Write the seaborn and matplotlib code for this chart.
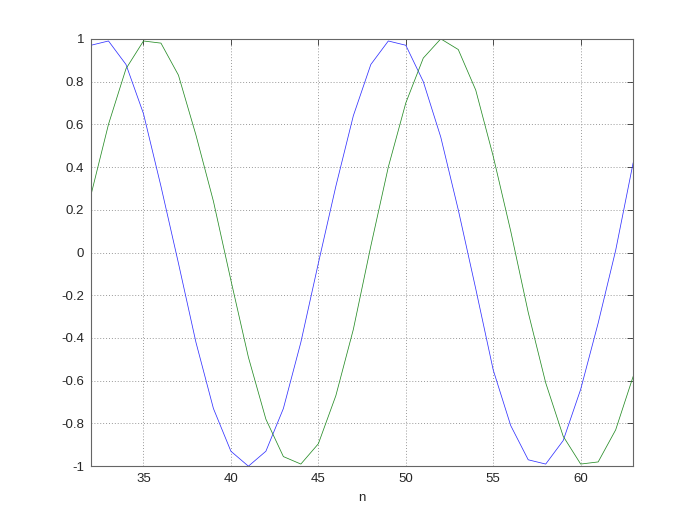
import numpy as np
import pandas as pd
import seaborn as sns
import matplotlib.pyplot as plt

# values, one per integer n
n = list(range(32, 64))
blue_vals = [0.97, 0.99, 0.88, 0.65, 0.31, -0.05, -0.42, -0.73, -0.93, -1.0,
             -0.93, -0.73, -0.42, -0.05, 0.31, 0.64, 0.88, 0.99, 0.97, 0.80,
             0.54, 0.20, -0.17, -0.55, -0.81, -0.97, -0.99, -0.88, -0.64, -0.33,
             0.01, 0.42]
green_vals = [0.27, 0.60, 0.86, 0.99, 0.98, 0.83, 0.55, 0.24, -0.13, -0.49,
              -0.78, -0.955, -0.99, -0.895, -0.67, -0.36, 0.03, 0.40, 0.70, 0.91,
              1.0, 0.95, 0.76, 0.45, 0.10, -0.28, -0.61, -0.86, -0.99, -0.98,
              -0.83, -0.58]
xticks = [35, 40, 45, 50, 55, 60]
yticks = [-1, -0.8, -0.6, -0.4, -0.2, 0, 0.2, 0.4, 0.6, 0.8, 1]
ytick_labels = ['-1', '-0.8', '-0.6', '-0.4', '-0.2', '0', '0.2', '0.4', '0.6', '0.8', '1']

df = pd.DataFrame({'n': n, 'blue': blue_vals, 'green': green_vals})

sns.set_style('white')
plt.rcParams['font.family'] = ['Liberation Sans', 'DejaVu Sans']

fig = plt.figure(figsize=(7, 5.25), dpi=100)
ax = fig.add_axes([0.13, 0.112, 0.7745, 0.814])

sns.lineplot(data=df, x='n', y='blue', color=(0.2, 0.2, 1), linewidth=0.55, ax=ax)
sns.lineplot(data=df, x='n', y='green', color=(0.15, 0.55, 0.15), linewidth=0.55, ax=ax)

ax.set_xlim(32, 63)
ax.set_ylim(-1, 1)
ax.set_xticks(xticks)
ax.set_xticklabels([str(t) for t in xticks])
ax.set_yticks(yticks)
ax.set_yticklabels(ytick_labels)
ax.grid(True, linestyle=(0, (1, 2)), color='#999999', linewidth=0.7)
ax.tick_params(direction='in', length=4, width=0.6, color='#333333',
               labelsize=9.5, top=True, right=True, pad=5)
for s in ax.spines.values():
    s.set_color('#666666')
    s.set_linewidth(0.8)
ax.set_xlabel('n', fontsize=9.5, labelpad=5)
ax.set_ylabel('')

fig.savefig('out.png', dpi=100)
